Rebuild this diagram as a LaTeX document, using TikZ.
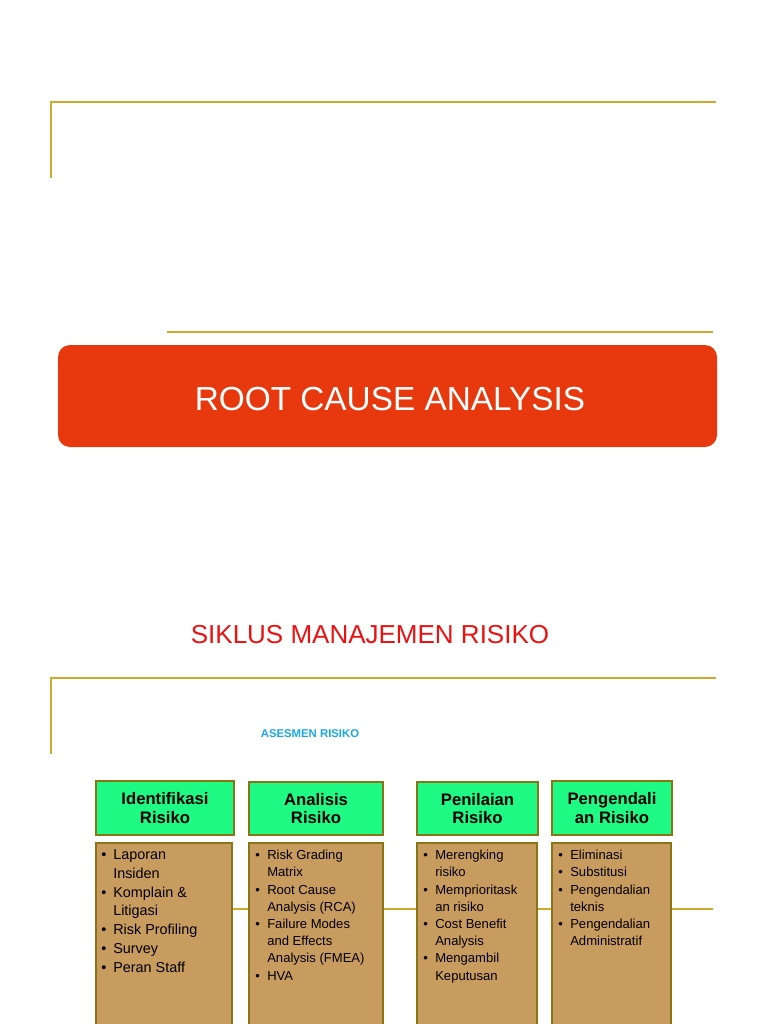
\documentclass[tikz,border=0pt]{standalone}
\usepackage{fontspec}
\setmainfont{Liberation Sans}
\begin{document}
\begin{tikzpicture}[x=0.75pt,y=-0.75pt,
  gold/.style={draw=gold,line width=1.2pt},
  head/.style={draw=olivebd,line width=1.5pt,fill=headgreen,font=\bfseries\fontsize{12.5}{14}\selectfont,align=center,inner sep=0pt},
  body/.style={draw=olivebd,line width=1.5pt,fill=tanfill,anchor=north west,inner sep=0pt}]
\definecolor{gold}{HTML}{CDAA2A}
\definecolor{olivebd}{HTML}{8A7414}
\definecolor{headgreen}{HTML}{1EFA84}
\definecolor{tanfill}{HTML}{C89B5E}
\definecolor{rcared}{HTML}{E8380D}
\definecolor{sred}{HTML}{EE1111}
\definecolor{sblue}{HTML}{1AA8E8}
\useasboundingbox (0,0) rectangle (768,1024);
\fill[white] (0,0) rectangle (768,1024);
\coordinate (t1a) at (51,178); \coordinate (t1b) at (51,102); \coordinate (t1c) at (716,102);
\draw[gold] (t1a) -- (t1b) -- (t1c);
\coordinate (l2a) at (167,332); \coordinate (l2b) at (713,332);
\draw[gold,line width=0.8pt] (l2a) -- (l2b);
\coordinate (t2a) at (51,754); \coordinate (t2b) at (51,678); \coordinate (t2c) at (716,678);
\draw[gold] (t2a) -- (t2b) -- (t2c);
\coordinate (l3a) at (230,909); \coordinate (l3b) at (713,909);
\draw[gold] (l3a) -- (l3b);
\fill[rcared,rounded corners=9pt] (58,345) rectangle (717,447);
\node[text=white,font=\fontsize{25}{28}\selectfont] (title) at (390,399) {ROOT CAUSE ANALYSIS};
\node[text=sred,font=\fontsize{19.5}{22}\selectfont] (siklus) at (370,635) {SIKLUS MANAJEMEN RISIKO};
\node[text=sblue,font=\bfseries\fontsize{8.5}{10}\selectfont] (ases) at (310,734) {ASESMEN RISIKO};
% bodies
\path[body] (96,843) rectangle (232,1030);
\path[body] (249,843) rectangle (383,1030);
\path[body] (417,843) rectangle (537,1030);
\path[body] (552,843) rectangle (671,1030);
% heads
\node[head,minimum width=138*0.75pt,minimum height=54*0.75pt] (h1) at (165,808) {Identifikasi\\Risiko};
\node[head,minimum width=134*0.75pt,minimum height=53*0.75pt] (h2) at (316,808.5) {Analisis\\Risiko};
\node[head,minimum width=121*0.75pt,minimum height=53*0.75pt] (h3) at (477.5,808.5) {Penilaian\\Risiko};
\node[head,minimum width=120*0.75pt,minimum height=54*0.75pt] (h4) at (612,808) {Pengendali\\an Risiko};
\newcommand{\bl}{\makebox[9pt][l]{\textbullet}}
\node[anchor=north west,align=left,font=\fontsize{10.8}{14.2}\selectfont,inner sep=0pt] (b1) at (101,849)
{\bl Laporan\\\hspace*{9pt}Insiden\\\bl Komplain \&\\\hspace*{9pt}Litigasi\\\bl Risk Profiling\\\bl Survey\\\bl Peran Staff};
\node[anchor=north west,align=left,font=\fontsize{9.8}{12.9}\selectfont,inner sep=0pt] (b2) at (255,850)
{\bl Risk Grading\\\hspace*{9pt}Matrix\\\bl Root Cause\\\hspace*{9pt}Analysis (RCA)\\\bl Failure Modes\\\hspace*{9pt}and Effects\\\hspace*{9pt}Analysis (FMEA)\\\bl HVA};
\node[anchor=north west,align=left,font=\fontsize{9.8}{12.9}\selectfont,inner sep=0pt] (b3) at (423,850)
{\bl Merengking\\\hspace*{9pt}risiko\\\bl Memprioritask\\\hspace*{9pt}an risiko\\\bl Cost Benefit\\\hspace*{9pt}Analysis\\\bl Mengambil\\\hspace*{9pt}Keputusan};
\node[anchor=north west,align=left,font=\fontsize{9.8}{12.9}\selectfont,inner sep=0pt] (b4) at (558,850)
{\bl Eliminasi\\\bl Substitusi\\\bl Pengendalian\\\hspace*{9pt}teknis\\\bl Pengendalian\\\hspace*{9pt}Administratif};
\end{tikzpicture}
\end{document}
